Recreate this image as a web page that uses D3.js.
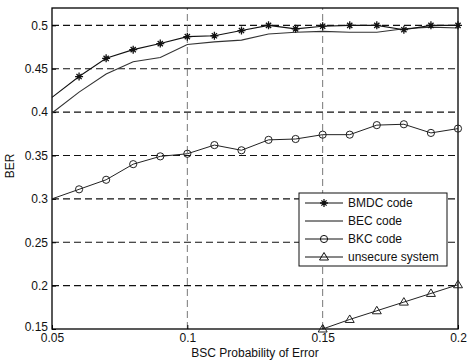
<!DOCTYPE html>
<html>
<head>
<meta charset="utf-8">
<script src="https://cdn.jsdelivr.net/npm/d3@7"></script>
<style>
  body { margin: 0; background: #fff; }
  text { font-family: "Liberation Sans", Arial, sans-serif; }
</style>
</head>
<body>
<div id="chart"></div>
<script>
// data
var pe = [0.05, 0.06, 0.07, 0.08, 0.09, 0.10, 0.11, 0.12, 0.13, 0.14, 0.15, 0.16, 0.17, 0.18, 0.19, 0.20];
var bmdc = [0.417, 0.441, 0.462, 0.472, 0.479, 0.487, 0.488, 0.494, 0.500, 0.496, 0.499, 0.500, 0.500, 0.495, 0.500, 0.500];
var bec = [0.399, 0.423, 0.444, 0.458, 0.463, 0.478, 0.481, 0.483, 0.490, 0.492, 0.493, 0.492, 0.492, 0.496, 0.498, 0.497];
var bkc = [0.300, 0.311, 0.322, 0.340, 0.349, 0.352, 0.362, 0.356, 0.368, 0.369, 0.374, 0.374, 0.385, 0.386, 0.376, 0.381];
var unsecPe = [0.15, 0.16, 0.17, 0.18, 0.19, 0.20];
var unsec = [0.150, 0.161, 0.171, 0.181, 0.191, 0.201];
var xTicks = [0.05, 0.1, 0.15, 0.2];
var yTicks = [0.15, 0.2, 0.25, 0.3, 0.35, 0.4, 0.45, 0.5];
var legendNames = ["BMDC code", "BEC code", "BKC code", "unsecure system"];

var width = 474, height = 364;
var padding = { top: 8, right: 16, bottom: 35, left: 52 };

var svg = d3.select("#chart")
    .append("svg")
    .attr("width", width)
    .attr("height", height);

var xScale = d3.scaleLinear()
    .domain([0.05, 0.2])
    .range([padding.left, width - padding.right]);
var yScale = d3.scaleLinear()
    .domain([0.15, 0.52])
    .range([height - padding.bottom, padding.top]);

var x0 = xScale.range()[0], x1 = xScale.range()[1];
var y0 = yScale.range()[0], y1 = yScale.range()[1];

// grid
svg.append("g")
    .selectAll("line")
    .data(yTicks.filter(function(d) { return d > 0.15; }))
    .enter()
    .append("line")
    .attr("x1", x0).attr("x2", x1)
    .attr("y1", function(d) { return yScale(d); })
    .attr("y2", function(d) { return yScale(d); })
    .attr("stroke", "#111")
    .attr("stroke-width", 1.1)
    .attr("stroke-dasharray", "7,4");
svg.append("g")
    .selectAll("line")
    .data([0.1, 0.15])
    .enter()
    .append("line")
    .attr("y1", y0).attr("y2", y1)
    .attr("x1", function(d) { return xScale(d); })
    .attr("x2", function(d) { return xScale(d); })
    .attr("stroke", "#777")
    .attr("stroke-width", 1)
    .attr("stroke-dasharray", "7,4");

// axes, ticks drawn inward
var xAxis = d3.axisBottom(xScale).tickValues(xTicks).tickSizeInner(-4).tickSizeOuter(0)
    .tickFormat(function(d) { return String(+d.toFixed(2)); });
var yAxis = d3.axisLeft(yScale).tickValues(yTicks).tickSizeInner(-4).tickSizeOuter(0)
    .tickFormat(function(d) { return String(+d.toFixed(2)); });

var gx = svg.append("g")
    .attr("transform", "translate(0," + y0 + ")")
    .call(xAxis);
var gy = svg.append("g")
    .attr("transform", "translate(" + x0 + ",0)")
    .call(yAxis);
[gx, gy].forEach(function(g) {
    g.select(".domain").remove();
    g.selectAll("line").attr("stroke", "#000");
    g.selectAll("text").attr("font-size", 12).attr("fill", "#111")
        .style("font-family", "'Liberation Sans', Arial, sans-serif");
});
gx.selectAll("text").attr("dy", "0.71em").attr("y", 4);
gy.selectAll("text").attr("x", -4);
// lowest y label sits just above the corner, as in the original
gy.selectAll(".tick text").filter(function(d) { return d === 0.15; }).attr("dy", "0.1em");

// frame
svg.append("rect")
    .attr("x", x0).attr("y", y1)
    .attr("width", x1 - x0).attr("height", y0 - y1)
    .attr("fill", "none")
    .attr("stroke", "#000")
    .attr("stroke-width", 1.3);

// labels
svg.append("text")
    .attr("x", (x0 + x1) / 2)
    .attr("y", 357)
    .attr("text-anchor", "middle")
    .attr("font-size", 12)
    .attr("fill", "#111")
    .text("BSC Probability of Error");
svg.append("text")
    .attr("transform", "translate(14," + 166 + ") rotate(-90)")
    .attr("text-anchor", "middle")
    .attr("font-size", 12)
    .attr("fill", "#111")
    .text("BER");

// lines
var line = d3.line()
    .x(function(d) { return xScale(d[0]); })
    .y(function(d) { return yScale(d[1]); });

function pairs(xs, ys) {
    return xs.map(function(x, i) { return [x, ys[i]]; });
}

var series = [
    { data: pairs(pe, bec), marker: "none", color: "#333", w: 1.1 },
    { data: pairs(pe, bmdc), marker: "star", color: "#111", w: 1.1 },
    { data: pairs(pe, bkc), marker: "circle", color: "#222", w: 1 },
    { data: pairs(unsecPe, unsec), marker: "triangle", color: "#222", w: 1 }
];

function drawMarker(g, type, cx, cy, color) {
    if (type === "star") {
        var s = 4, t = 2.6;
        g.append("path")
            .attr("d", "M" + (cx - s) + "," + cy + "H" + (cx + s) +
                "M" + cx + "," + (cy - s) + "V" + (cy + s) +
                "M" + (cx - t) + "," + (cy - t) + "L" + (cx + t) + "," + (cy + t) +
                "M" + (cx - t) + "," + (cy + t) + "L" + (cx + t) + "," + (cy - t))
            .attr("stroke", color).attr("stroke-width", 1.3).attr("fill", "none");
    } else if (type === "circle") {
        g.append("circle")
            .attr("cx", cx).attr("cy", cy).attr("r", 3.6)
            .attr("fill", "none").attr("stroke", color).attr("stroke-width", 1);
    } else if (type === "triangle") {
        g.append("path")
            .attr("d", "M" + cx + "," + (cy - 4.5) + "L" + (cx + 4.5) + "," + (cy + 3) + "L" + (cx - 4.5) + "," + (cy + 3) + "Z")
            .attr("fill", "none").attr("stroke", color).attr("stroke-width", 1);
    }
}

series.forEach(function(s) {
    svg.append("path")
        .attr("d", line(s.data))
        .attr("fill", "none")
        .attr("stroke", s.color)
        .attr("stroke-width", s.w);
    var g = svg.append("g");
    s.data.forEach(function(d, i) {
        if (s.marker === "star" && i === 0) return;
        if (s.marker === "circle" && i === 0) return;
        drawMarker(g, s.marker, xScale(d[0]), yScale(d[1]), s.color);
    });
});

// legend
var legend = svg.append("g");
legend.append("rect")
    .attr("x", 299).attr("y", 193)
    .attr("width", 148).attr("height", 73)
    .attr("fill", "#fff")
    .attr("stroke", "#111")
    .attr("stroke-width", 1);
var legendMarkers = ["star", "none", "circle", "triangle"];
legendNames.forEach(function(name, i) {
    var ly = 203 + i * 18;
    legend.append("line")
        .attr("x1", 305).attr("x2", 343)
        .attr("y1", ly).attr("y2", ly)
        .attr("stroke", "#111").attr("stroke-width", 1);
    drawMarker(legend, legendMarkers[i], 324, ly, "#111");
    legend.append("text")
        .attr("x", 348)
        .attr("y", ly)
        .attr("dy", "0.35em")
        .attr("font-size", 12)
        .attr("fill", "#111")
        .text(name);
});
</script>
</body>
</html>
